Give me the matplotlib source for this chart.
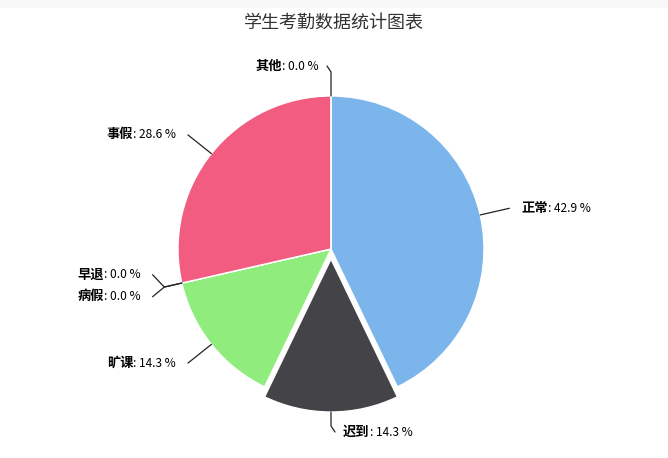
import numpy as np
import matplotlib
matplotlib.use("Agg")
import matplotlib.pyplot as plt
from matplotlib.patches import Rectangle

plt.rcParams['font.family'] = ['Noto Sans CJK SC', 'DejaVu Sans']

# 数据 (人数)
names = ['正常', '迟到', '旷课', '病假', '早退', '事假', '其他']
counts = [3, 1, 1, 0, 0, 2, 0]
colors = ['#7cb5ec', '#434348', '#90ed7d', '#f7a35c', '#8085e9', '#f15c80', '#e4d354']
explode_px = [0, 10, 0, 0, 0, 0, 0]
# 重叠标签的纵向偏移 (px)
label_dy = [0, 0, 0, 7, -15, 0, 0]

W, H = 668, 458
fig = plt.figure(figsize=(W / 100, H / 100), dpi=100)
ax = fig.add_axes([0, 0, 1, 1])
ax.set_xlim(0, W)
ax.set_ylim(0, H)
ax.axis('off')

# 顶部灰条
fig.patches.append(Rectangle((0, 1 - 8 / H), 1, 8 / H, transform=fig.transFigure,
                             facecolor='#f8f8f8', edgecolor='none', zorder=0))

cx, cy, r = 331, H - 249, 153
total = sum(counts)
pct = [c / total * 100 for c in counts]

# explode 在 matplotlib 中是绝对偏移量 (数据单位)
wedges, _ = ax.pie(counts, colors=colors, startangle=90, counterclock=False,
                   center=(cx, cy), radius=r, explode=explode_px,
                   wedgeprops=dict(edgecolor='white', linewidth=1))
ax.set_xlim(0, W)
ax.set_ylim(0, H)
ax.set_aspect('equal')

fs_name = 9.5
fs_val = 8.6
for i, w in enumerate(wedges):
    th = np.deg2rad((w.theta1 + w.theta2) / 2)
    ux, uy = np.cos(th), np.sin(th)
    ex = explode_px[i]
    edge = (cx + (r + ex) * ux, cy + (r + ex) * uy)
    ax_, ay_ = cx + (r + 30) * ux, cy + (r + 30) * uy - label_dy[i]
    left = ux < -1e-6 or (abs(ux) < 1e-6 and uy > 0)
    sgn = -1 if left else 1
    if abs(ux) < 0.3:
        # 顶部/底部: 竖线后弯向标签
        bend = (edge[0], ay_ - 6 * np.sign(uy))
        xs = [edge[0], bend[0], bend[0] + sgn * 4]
        ys = [edge[1], bend[1], ay_]
    else:
        mid = (cx + (r + 18) * ux, cy + (r + 18) * uy)
        xs = [edge[0], mid[0], ax_]
        ys = [edge[1], mid[1], ay_]
    ax.plot(xs, ys, color='#222222', lw=0.9, solid_capstyle='round', zorder=3)
    tx = ax_ + sgn * 12
    val = f': {pct[i]:.1f} %'
    if left:
        t2 = ax.text(tx, ay_, val, ha='right', va='center', fontsize=fs_val, color='black')
        ax.annotate(names[i], xy=(0, 0), xycoords=t2, ha='right', va='bottom',
                    fontsize=fs_name, fontweight='bold', color='black')
    else:
        t1 = ax.text(tx, ay_, names[i], ha='left', va='center', fontsize=fs_name,
                     fontweight='bold', color='black')
        ax.annotate(val, xy=(1, 0), xycoords=t1, ha='left', va='bottom',
                    fontsize=fs_val, color='black')

ax.text(W / 2, H - 23, '学生考勤数据统计图表', ha='center', va='center',
        fontsize=13, color='#333333')

fig.savefig('out.png', dpi=100)
